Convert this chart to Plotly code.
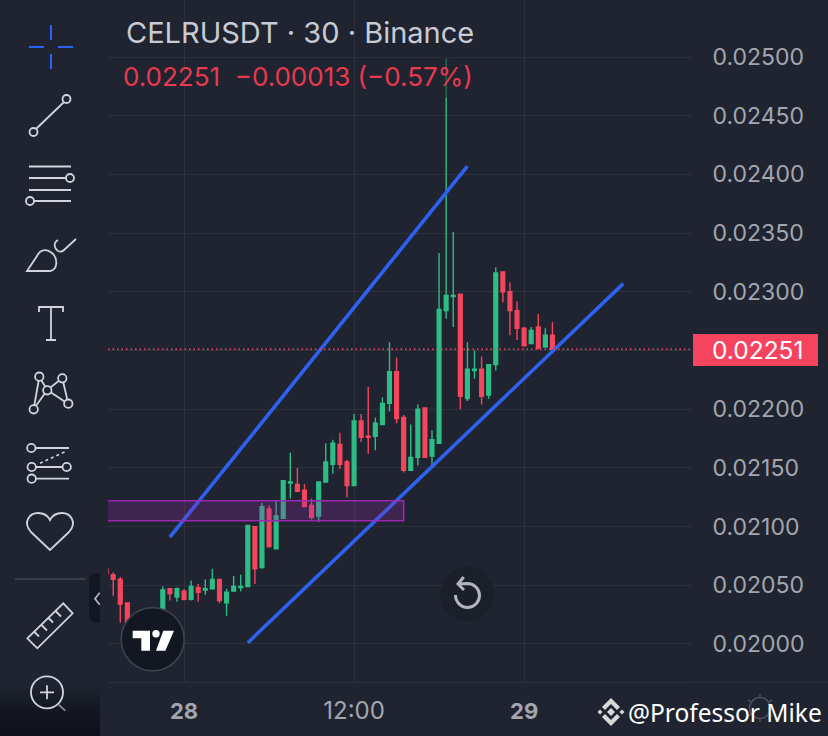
import re

import pandas as pd
import plotly.graph_objects as go

# half-hour candles, first one is cut off by the left edge
times = pd.date_range("2023-03-27 18:30", periods=64, freq="30min")

opens = [0.02064, 0.02059, 0.02055, 0.02035, 0.02012, 0.01998, 0.01993, 0.02005,
         0.02015, 0.02047, 0.02040, 0.02045, 0.02038, 0.02048, 0.02046, 0.02047,
         0.02055, 0.02035, 0.02045, 0.02048, 0.02049, 0.02100, 0.02065, 0.02115,
         0.02081, 0.02107, 0.02137, 0.02136, 0.02131, 0.02118, 0.02109, 0.02138,
         0.02153, 0.02170, 0.02155, 0.02135, 0.02190, 0.02177, 0.02177, 0.02187,
         0.02205, 0.02232, 0.02193, 0.02148, 0.02159, 0.02201, 0.02160, 0.02171,
         0.02284, 0.02296, 0.02298, 0.02209, 0.02233, 0.02234, 0.02212, 0.02238,
         0.02317, 0.02300, 0.02284, 0.02269, 0.02256, 0.02270, 0.02253, 0.02263]
highs = [0.02065, 0.02061, 0.02057, 0.02035, 0.02015, 0.02003, 0.02009, 0.02016,
         0.02049, 0.02047, 0.02048, 0.02047, 0.02054, 0.02051, 0.02055, 0.02064,
         0.02055, 0.02047, 0.02058, 0.02059, 0.02101, 0.02100, 0.02120, 0.02118,
         0.02122, 0.02139, 0.02163, 0.02150, 0.02136, 0.02124, 0.02138, 0.02171,
         0.02174, 0.02180, 0.02157, 0.02196, 0.02196, 0.02219, 0.02193, 0.02210,
         0.02257, 0.02244, 0.02195, 0.02187, 0.02204, 0.02201, 0.02182, 0.02333,
         0.02499, 0.02351, 0.02298, 0.02257, 0.02250, 0.02245, 0.02238, 0.02321,
         0.02317, 0.02308, 0.02292, 0.02270, 0.02270, 0.02281, 0.02269, 0.02274]
lows = [0.02059, 0.02041, 0.02018, 0.02008, 0.01992, 0.01988, 0.01990, 0.02002,
        0.02012, 0.02037, 0.02036, 0.02037, 0.02037, 0.02036, 0.02042, 0.02047,
        0.02035, 0.02024, 0.02045, 0.02045, 0.02049, 0.02051, 0.02064, 0.02082,
        0.02081, 0.02107, 0.02124, 0.02130, 0.02117, 0.02106, 0.02104, 0.02138,
        0.02145, 0.02149, 0.02125, 0.02135, 0.02172, 0.02162, 0.02165, 0.02187,
        0.02198, 0.02188, 0.02146, 0.02148, 0.02152, 0.02159, 0.02150, 0.02171,
        0.02277, 0.02270, 0.02200, 0.02207, 0.02226, 0.02204, 0.02209, 0.02233,
        0.02291, 0.02263, 0.02259, 0.02254, 0.02256, 0.02251, 0.02253, 0.02249]
closes = [0.02060, 0.02055, 0.02034, 0.02012, 0.01998, 0.01993, 0.02005, 0.02015,
          0.02046, 0.02043, 0.02047, 0.02038, 0.02049, 0.02044, 0.02047, 0.02055,
          0.02037, 0.02044, 0.02049, 0.02049, 0.02101, 0.02064, 0.02117, 0.02083,
          0.02109, 0.02139, 0.02138, 0.02130, 0.02117, 0.02108, 0.02138, 0.02155,
          0.02171, 0.02153, 0.02135, 0.02190, 0.02176, 0.02176, 0.02188, 0.02205,
          0.02232, 0.02192, 0.02148, 0.02159, 0.02200, 0.02159, 0.02174, 0.02285,
          0.02297, 0.02297, 0.02211, 0.02234, 0.02234, 0.02211, 0.02238, 0.02316,
          0.02300, 0.02284, 0.02269, 0.02254, 0.02267, 0.02252, 0.02263, 0.02251]

last_price = 0.02251
# 0.02250 sits behind the last price tag, so it gets a grid line but no label
y_ticks = [0.02, 0.0205, 0.021, 0.0215, 0.022, 0.023, 0.0235, 0.024, 0.0245, 0.025]
hidden_grid = 0.0225
x_ticks = ["2023-03-28 00:00", "2023-03-28 12:00", "2023-03-29 00:00"]
x_labels = ["<b>28</b>", "<span style='font-size:24px'>12:00</span>", "<b>29</b>"]

# hand drawn channel and the zone
upper_x = ["2023-03-27 23:00", "2023-03-28 20:00"]
upper_y = [0.02091, 0.02407]
lower_x = ["2023-03-28 04:30", "2023-03-29 07:00"]
lower_y = [0.02001, 0.02307]
zone_x = ["2023-03-27 12:00", "2023-03-28 15:30"]
zone_y = [0.02105, 0.02122]

BG = "#1f2430"
GRID = "#2c313c"
GREEN = "#2ebd85"
RED = "#f6465d"
BLUE = "#2d62f0"
ICON = "#d1d4dc"

W, H = 828, 736
LEFT, RIGHT, BOTTOM = 108, 692, 682


# screen pixels to paper coordinates of the plot area
def px(x):
    return (x - LEFT) / (RIGHT - LEFT)


def py(y):
    return (BOTTOM - y) / BOTTOM


def path(d, color=ICON, width=1.8, fill=None):
    nums = iter(re.findall(r"[A-Z]|-?[\d.]+", d))
    out = []
    for tok in nums:
        if tok.isalpha():
            out.append(tok)
        else:
            out.append(f"{px(float(tok)):.5f},{py(float(next(nums))):.5f}")
    line = dict(color=color, width=width) if width else dict(width=0)
    return dict(type="path", xref="paper", yref="paper", path=" ".join(out),
                line=line, fillcolor=fill or "rgba(0,0,0,0)", layer="above")


def circle(cx, cy, r, color=ICON, width=1.8, fill=BG):
    return dict(type="circle", xref="paper", yref="paper", x0=px(cx - r), x1=px(cx + r),
                y0=py(cy + r), y1=py(cy - r), line=dict(color=color, width=width),
                fillcolor=fill, layer="above")


def box(x0, y0, x1, y1, fill):
    return dict(type="rect", xref="paper", yref="paper", x0=px(x0), x1=px(x1), y0=py(y1), y1=py(y0),
                line=dict(width=0), fillcolor=fill, layer="above")


def text(x, y, s, size, color, anchor="left", family="Inter"):
    return dict(xref="paper", yref="paper", x=px(x), y=py(y), text=s, showarrow=False, xanchor=anchor,
                yanchor="middle", font=dict(size=size, color=color, family=family))


fig = go.Figure()
fig.add_trace(go.Candlestick(
    x=times, open=opens, high=highs, low=lows, close=closes,
    increasing=dict(line=dict(color=GREEN, width=1.4), fillcolor=GREEN),
    decreasing=dict(line=dict(color=RED, width=1.4), fillcolor=RED),
    whiskerwidth=0, showlegend=False))
for xs, ys in [(upper_x, upper_y), (lower_x, lower_y)]:
    fig.add_trace(go.Scatter(x=xs, y=ys, mode="lines", showlegend=False,
                             line=dict(color=BLUE, width=3.6)))

shapes = []
shapes.append(dict(type="line", xref="paper", yref="y", x0=0, x1=1, y0=hidden_grid, y1=hidden_grid,
                   line=dict(color=GRID, width=1.2), layer="below"))
# zone and last price line, these live on the axes
shapes.append(dict(type="rect", xref="x", yref="y", x0=zone_x[0], x1=zone_x[1], y0=zone_y[0], y1=zone_y[1],
                   line=dict(color="#9c27b0", width=1.6), fillcolor="rgba(156,39,176,0.25)", layer="above"))
shapes.append(dict(type="line", xref="paper", yref="y", x0=0, x1=1, y0=last_price, y1=last_price,
                   line=dict(color=RED, width=1.5, dash="1.5px,3px"), layer="above"))
# dim the tall wick where it runs under the header
shapes.append(box(441, 56, 451, 98, "rgba(31,36,48,0.55)"))
# axis rule continues under the price scale
shapes.append(path(f"M 695 {BOTTOM} L 828 {BOTTOM}", GRID, 1.2))
shapes.append(box(693, 334, 818, 366, "#f7445e"))

# toolbar fade at the bottom
for i in range(12):
    shapes.append(box(0, 736 - (i + 1) * 4, 100, 736, "rgba(12,14,20,0.09)"))

# crosshair
for d in ["M 51 25 L 51 40", "M 51 54 L 51 69", "M 29 47 L 44 47", "M 58 47 L 73 47"]:
    shapes.append(path(d, "#2962ff", 2))
# trend line
shapes.append(path("M 36 129 L 64 102"))
shapes += [circle(66.5, 99, 4), circle(33.5, 132, 4)]
# fib lines
for d in ["M 29 166.5 L 71 166.5", "M 29 178 L 66 178", "M 29 190 L 71 190", "M 34 201 L 71 201"]:
    shapes.append(path(d))
shapes += [circle(70, 178, 4), circle(30, 201, 4)]
# brush
shapes.append(path("M 27 271 L 50 271 C 58 270 58 258 52 253 C 46 248 40 250 37 256 Z"))
shapes.append(path("M 58 240 C 53 243 54 248 58 251 C 60 252 62 252 64 250 L 76 239"))
# text tool
shapes.append(path("M 39 312 L 39 307 L 63 307 L 63 312"))
shapes.append(path("M 51 307 L 51 340 M 46 340 L 56 340"))
# patterns
shapes.append(path("M 39.3 377 L 33.7 409 L 47.3 390 L 39.3 377"))
shapes.append(path("M 47.3 390 L 62.3 378 L 68.3 404 L 47.3 390"))
shapes += [circle(39.3, 376.7, 4.2), circle(62.3, 378.3, 4.2), circle(47.3, 390.3, 4.2),
           circle(68.3, 403.7, 4.2), circle(33.7, 409.3, 4.2)]
# forecast
shapes.append(path("M 31 448 L 69 448 M 31 467 L 67 467 M 31 478.7 L 69 478.7"))
shapes.append(dict(path("M 40 463.3 L 65 451.7"), line=dict(color=ICON, width=1.6, dash="dot")))
shapes += [circle(31.3, 448, 4.2), circle(31.7, 467, 4.2), circle(66.7, 467, 4.2), circle(31.7, 478.7, 4.2)]
# heart
shapes.append(path("M 50 550 L 31 532 C 22 522 30 513 38 513 C 44 513 48 516 50 520 "
                   "C 52 516 56 513 62 513 C 70 513 78 522 69 532 Z"))
shapes.append(path("M 15 579 L 85 579", "#434651", 1.6))
# ruler
shapes.append(path("M 27.3 638.3 L 63.3 603.3 L 72.7 613.3 L 37.3 648.3 Z"))
shapes.append(path("M 34 631.5 L 39 636.5 M 41 624.5 L 47 630.5 M 48 617.5 L 53 622.5 M 55 610.5 L 61 616.5"))
# zoom
shapes.append(circle(47, 692.3, 16, fill="rgba(0,0,0,0)"))
shapes.append(path("M 40 692.3 L 54 692.3 M 47 685.3 L 47 699.3"))
shapes.append(path("M 58.3 704.3 L 65.3 710.7", "#8a8d96", 1.8))
# collapse pill
shapes.append(path("M 100 573 C 92 573 89 576 89 581 L 89 615 C 89 620 92 623 100 623 Z", "#131722", 0, "#131722"))
shapes.append(path("M 99.7 592.7 L 95 598.7 L 99.7 604.7", "#b2b5be", 1.8))
# TradingView badge
shapes.append(circle(152.7, 639.3, 31.5, "#3f434d", 1.6, "#131722"))
shapes.append(path("M 132.7 630.7 L 150 630.7 L 150 650.7 L 141.3 650.7 L 141.3 638.3 L 132.7 638.3 Z",
                   "#ffffff", 0, "#ffffff"))
shapes.append(path("M 163.3 630.7 L 174 630.7 L 165.3 650.7 L 156 650.7 Z", "#ffffff", 0, "#ffffff"))
shapes.append(circle(156, 633.7, 3.7, "#ffffff", 0, "#ffffff"))
# reset button
shapes.append(circle(467, 594, 27, "rgba(0,0,0,0)", 0, "#1b1f2a"))
shapes.append(path("M 458 584 L 467.5 583.5 C 474 583.5 479.5 589 479.5 595.5 C 479.5 602 474 607.5 467.5 607.5 "
                   "C 461 607.5 455.5 602 455.5 595", "#b2b5be", 3))
shapes.append(path("M 463.7 577 L 458 584 L 464 590", "#b2b5be", 3))
# settings gear, faint under the watermark
shapes.append(circle(760, 708, 10.5, "#4a4e59", 1.6, "rgba(0,0,0,0)"))
shapes.append(path("M 760 694 L 760 697 M 748 700 L 751 702 M 772 700 L 769 702 M 760 722 L 760 719 "
                   "M 748 716 L 751 714 M 772 716 L 769 714", "#4a4e59", 1.6))
# watermark diamond
for d in ["M 611 698 L 620 707 L 617 710 L 611 704 L 605 710 L 602 707 Z",
          "M 611 726 L 620 717 L 617 714 L 611 720 L 605 714 L 602 717 Z",
          "M 611 708 L 615 712 L 611 716 L 607 712 Z",
          "M 600 709.5 L 602.5 712 L 600 714.5 L 597.5 712 Z",
          "M 622 709.5 L 624.5 712 L 622 714.5 L 619.5 712 Z"]:
    shapes.append(path(d, "#d8d8d8", 0, "#d8d8d8"))

annotations = [
    text(124, 33, "CELRUSDT · 30 · Binance", 29, "#c8cbd4"),
    text(121, 76, "0.02251  −0.00013 (−0.57%)", 26, "#e8394f"),
    text(710, 350, "0.02251", 24.5, "#ffffff"),
    text(626, 712, "@Professor Mike", 24.5, "#ffffff", family="Noto Sans"),
]

fig.update_layout(
    width=W, height=H, margin=dict(l=LEFT, r=W - RIGHT, t=0, b=H - BOTTOM),
    paper_bgcolor=BG, plot_bgcolor=BG, showlegend=False, boxgap=0.25,
    shapes=shapes, annotations=annotations,
    font=dict(family="Inter", color="#a3a6af"),
    hovermode=False,
)
fig.update_xaxes(
    range=["2023-03-27 18:38", "2023-03-29 11:51"], rangeslider_visible=False,
    tickmode="array", tickvals=x_ticks, ticktext=x_labels, tickfont=dict(size=22, color="#a3a6af"),
    showgrid=True, gridcolor=GRID, gridwidth=1.2, showline=True, linecolor=GRID, linewidth=1.2,
    ticks="outside", ticklen=9, tickcolor=BG, zeroline=False,
)
fig.update_yaxes(
    range=[0.019676, 0.025486], side="right", tickmode="array", tickvals=y_ticks, tickformat=".5f",
    tickfont=dict(size=23, color="#a3a6af"), showgrid=True, gridcolor=GRID, gridwidth=1.2,
    zeroline=False, showline=False, ticks="outside", ticklen=15, tickcolor=BG,
)

fig.write_html("out.html", config=dict(displayModeBar=False),
               post_script="document.body.style.margin='0';")
